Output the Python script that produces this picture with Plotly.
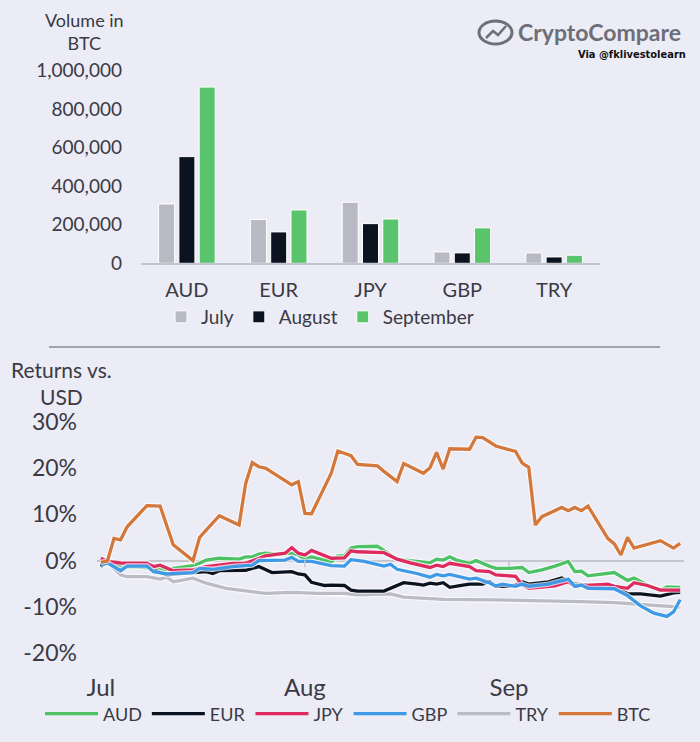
import plotly.graph_objects as go
import pandas as pd

# ---------------- data ----------------
currencies = ["AUD", "EUR", "JPY", "GBP", "TRY"]
vol_july = [308000, 227000, 317000, 59000, 54000]
vol_august = [554000, 163000, 206000, 54000, 33000]
vol_september = [915000, 277000, 230000, 184000, 42000]
month_names = ["July", "August", "September"]
vol_ticks = [0, 200000, 400000, 600000, 800000, 1000000]

start_date = "2020-07-01"
month_ticks = ["2020-07-01", "2020-08-01", "2020-09-01"]
month_labels = ["Jul", "Aug", "Sep"]
ret_ticks = [-20, -10, 0, 10, 20, 30]
ret_tick_labels = ["-20%", "-10%", "0%", "10%", "20%", "30%"]

aud_days = [0, 1, 3, 5, 8, 10, 11, 14, 15, 16, 18, 21, 22, 23, 24, 25, 27, 29, 30, 31, 32, 35, 36, 37, 38, 39, 42, 43, 44, 45, 48, 50, 51, 52, 53, 54, 56, 57, 59, 60, 62, 64, 65, 67, 69, 71, 72, 73, 74, 78, 80, 81, 83, 85, 86, 88]
aud_ret = [-1.2, -0.4, -1.5, -1.3, -1.7, -2.0, -1.7, -1.1, -0.6, 0.1, 0.5, 0.3, 0.8, 0.8, 1.4, 1.6, 1.4, 1.6, 1.2, 0.3, 0.8, -0.3, 1.0, 1.0, 2.7, 3.0, 3.1, 2.2, 1.2, 0.3, -0.2, -0.5, 0.3, 0.1, 0.8, 0.1, -0.6, 0.0, -1.2, -1.7, -1.7, -1.5, -2.6, -2.0, -1.2, -0.2, -2.4, -2.3, -3.3, -2.6, -4.3, -3.8, -5.3, -6.4, -5.7, -5.8]

eur_days = [0, 1, 2, 7, 8, 10, 14, 16, 17, 18, 22, 24, 26, 29, 30, 31, 32, 34, 35, 37, 38, 39, 43, 44, 46, 48, 49, 50, 51, 52, 53, 55, 56, 58, 59, 60, 62, 63, 64, 65, 68, 70, 72, 74, 78, 80, 82, 85, 87, 88]
eur_ret = [-1.3, -0.2, -0.7, -0.5, -2.0, -3.1, -2.6, -2.4, -2.8, -2.2, -2.1, -1.3, -2.6, -2.4, -2.9, -3.1, -4.7, -5.4, -5.3, -5.4, -6.4, -6.6, -6.6, -6.0, -4.8, -5.1, -5.3, -4.9, -5.1, -4.8, -5.8, -5.3, -5.1, -5.1, -4.6, -5.6, -5.6, -5.3, -4.6, -5.1, -4.6, -3.8, -5.1, -5.3, -5.6, -7.2, -7.2, -7.7, -7.0, -6.9]

jpy_days = [0, 1, 3, 7, 8, 9, 11, 14, 16, 20, 22, 25, 28, 29, 30, 31, 32, 35, 37, 38, 39, 43, 45, 47, 50, 51, 52, 53, 56, 57, 59, 60, 63, 64, 65, 69, 71, 72, 73, 74, 77, 78, 80, 81, 83, 85, 88]
jpy_ret = [0.5, -0.2, -0.5, -0.6, -1.3, -1.0, -2.2, -2.0, -1.3, -0.6, -0.6, 1.0, 1.6, 2.8, 1.6, 1.2, 2.2, 0.5, 0.6, 2.1, 1.9, 1.7, 0.3, -0.5, -1.5, -1.0, -1.3, -0.6, -1.3, -2.2, -2.4, -3.1, -3.4, -5.3, -6.0, -5.5, -4.6, -5.6, -5.3, -5.4, -5.1, -5.6, -6.0, -4.8, -5.4, -6.4, -6.4]

gbp_days = [0, 1, 3, 4, 7, 8, 10, 14, 15, 17, 20, 22, 23, 24, 28, 29, 30, 32, 35, 37, 38, 40, 43, 44, 45, 48, 50, 51, 52, 53, 56, 57, 59, 60, 61, 63, 64, 65, 68, 71, 72, 73, 74, 78, 80, 82, 84, 86, 87, 88]
gbp_ret = [-1.0, -0.5, -2.2, -1.2, -1.2, -2.4, -2.9, -2.6, -1.7, -1.9, -1.3, -1.2, -1.0, 0.0, 0.1, 0.7, -0.2, -0.2, -1.1, -1.2, 0.2, -0.2, -1.2, -0.8, -1.9, -2.8, -3.6, -3.0, -3.3, -3.0, -4.0, -3.8, -4.8, -5.5, -5.1, -5.6, -5.1, -5.6, -5.1, -4.0, -5.6, -5.3, -6.0, -6.1, -7.6, -9.8, -11.4, -12.1, -11.1, -8.5]

try_days = [0, 1, 3, 4, 7, 9, 10, 11, 14, 16, 19, 21, 25, 29, 33, 37, 39, 44, 46, 52, 60, 73, 78, 83, 88]
try_ret = [-1.0, -0.5, -3.1, -3.5, -3.5, -4.0, -3.6, -4.6, -3.8, -4.9, -6.0, -6.4, -7.1, -6.9, -7.1, -7.1, -7.4, -7.2, -7.9, -8.4, -8.5, -8.9, -9.1, -9.6, -10.1]

btc_days = [0, 1, 2, 3, 4, 7, 9, 11, 14, 15, 16, 18, 21, 22, 23, 24, 25, 28, 29, 30, 31, 32, 35, 36, 38, 39, 42, 43, 44, 45, 46, 49, 50, 51, 52, 53, 56, 57, 58, 59, 60, 63, 64, 65, 66, 67, 70, 71, 72, 73, 74, 77, 78, 79, 80, 81, 85, 87, 88]
btc_ret = [-0.4, -0.1, 4.8, 4.5, 7.3, 11.9, 11.8, 3.4, 0.0, 5.0, 6.6, 9.7, 7.7, 16.7, 21.2, 20.3, 20.0, 17.4, 16.4, 17.1, 10.2, 10.1, 18.9, 23.7, 22.7, 20.8, 20.5, 19.3, 18.3, 17.1, 21.0, 18.9, 20.1, 23.4, 19.8, 24.2, 24.1, 26.7, 26.6, 25.8, 24.8, 23.6, 21.1, 20.2, 7.7, 9.5, 11.5, 10.8, 11.5, 10.8, 11.8, 4.8, 3.6, 1.2, 5.0, 2.7, 4.3, 2.7, 3.7]

# ---------------- styling ----------------
W, H = 700, 742
BG = "#ECECF6"
FONT = "Lato, 'Open Sans', sans-serif"
TXT = "#3a3a44"
month_colors = ["#B9B9C3", "#0B1320", "#5AC46C"]


def fx(px):
    return px / W


def fy(py):
    return 1 - py / H


def to_dates(days):
    return pd.to_datetime(start_date) + pd.to_timedelta(days, unit="D")


fig = go.Figure()

# ---- top: bar chart ----
for name, vals, col in zip(month_names, [vol_july, vol_august, vol_september], month_colors):
    fig.add_trace(go.Bar(
        x=currencies, y=vals, name=name, marker=dict(color=col, line=dict(color="white", width=1)),
        xaxis="x", yaxis="y", legend="legend",
    ))

# ---- bottom: returns lines ----
series = [
    ("TRY", try_days, try_ret, "#BBBBC4", 5),
    ("AUD", aud_days, aud_ret, "#4DC265", 1),
    ("EUR", eur_days, eur_ret, "#0B1320", 2),
    ("JPY", jpy_days, jpy_ret, "#DE2A5E", 3),
    ("GBP", gbp_days, gbp_ret, "#3E9AE6", 4),
    ("BTC", btc_days, btc_ret, "#D4773A", 6),
]
for name, days, vals, col, rank in series:
    d = to_dates(days)
    fig.add_trace(go.Scatter(
        x=d, y=vals, mode="lines", line=dict(color="rgba(255,255,255,0.7)", width=5.5),
        showlegend=False, hoverinfo="skip", xaxis="x2", yaxis="y2",
    ))
    fig.add_trace(go.Scatter(
        x=d, y=vals, mode="lines", name=name, line=dict(color=col, width=3.3),
        xaxis="x2", yaxis="y2", legend="legend2", legendrank=rank,
    ))

x0 = pd.to_datetime(start_date) - pd.Timedelta(hours=14)
x1 = pd.to_datetime(start_date) + pd.Timedelta(days=88, hours=14)

fig.update_layout(
    width=W, height=H,
    margin=dict(l=0, r=0, t=0, b=0, autoexpand=False),
    paper_bgcolor=BG, plot_bgcolor=BG,
    font=dict(family=FONT, color=TXT),
    barmode="group", bargap=0.337, bargroupgap=0.21,
    xaxis=dict(
        domain=[fx(141), fx(600)], anchor="y", showline=True, linecolor="#C4C4CE", linewidth=2,
        ticks="", showgrid=False, tickfont=dict(size=20, color=TXT), ticklabelstandoff=8,
        automargin=False,
    ),
    yaxis=dict(
        domain=[fy(263.3), fy(61.1)], anchor="x", range=[0, 1050000],
        tickvals=vol_ticks, tickformat=",d",
        showgrid=False, zeroline=False, showline=False, ticks="",
        tickfont=dict(size=19, color=TXT), ticklabelstandoff=18, automargin=False,
    ),
    xaxis2=dict(
        domain=[fx(97), fx(684)], anchor="y2", type="date", range=[x0, x1],
        tickvals=pd.to_datetime(month_ticks), ticktext=month_labels,
        showgrid=False, showline=False, ticks="", zeroline=False,
        tickfont=dict(size=24, color=TXT), ticklabelstandoff=6, automargin=False,
    ),
    yaxis2=dict(
        domain=[fy(664.5), fy(410.4)], anchor="x2", range=[-22.5, 32.5],
        tickvals=ret_ticks, ticktext=ret_tick_labels,
        showgrid=False, zeroline=True, zerolinecolor="#C6C6CF", zerolinewidth=2,
        ticks="", tickfont=dict(size=23, color=TXT), ticklabelstandoff=19, automargin=False,
    ),
    legend=dict(
        orientation="h", x=fx(320), xanchor="center", y=fy(317), yanchor="middle",
        font=dict(size=19, color=TXT), bgcolor="rgba(0,0,0,0)", itemwidth=30,
        traceorder="normal",
    ),
    legend2=dict(
        orientation="h", x=fx(348), xanchor="center", y=fy(714), yanchor="middle",
        font=dict(size=18, color=TXT), bgcolor="rgba(0,0,0,0)", itemwidth=53,
    ),
    showlegend=True,
)

# titles / labels
fig.add_annotation(text="Volume in<br>BTC", x=fx(84), y=fy(32), xref="paper", yref="paper",
                   xanchor="center", yanchor="middle", borderpad=0,
                   showarrow=False, align="center", font=dict(size=18, color=TXT))
fig.add_annotation(text="Returns vs.<br>USD", x=fx(62), y=fy(383), xref="paper", yref="paper",
                   xanchor="center", yanchor="middle", borderpad=0,
                   showarrow=False, align="center", font=dict(size=21, color=TXT))

# logo
fig.add_annotation(text="<b>CryptoCompare</b>", x=fx(516), y=fy(32), xref="paper", yref="paper",
                   xanchor="left", yanchor="middle", showarrow=False,
                   font=dict(size=23, color="#6E6E78", family=FONT))
fig.add_annotation(text="<b>Via @fklivestolearn</b>", x=fx(688), y=fy(54), xref="paper", yref="paper",
                   xanchor="right", yanchor="middle", showarrow=False,
                   font=dict(size=11, color="#111111", family="'Liberation Sans Narrow', 'DejaVu Sans Condensed', sans-serif"))
fig.add_shape(type="circle", xref="paper", yref="paper",
              x0=fx(479), x1=fx(512), y0=fy(44), y1=fy(21),
              line=dict(color="#6E6E78", width=3))
fig.add_shape(type="path", xref="paper", yref="paper",
              path=f"M {fx(486)} {fy(38)} L {fx(493)} {fy(31)} L {fx(498)} {fy(35)} L {fx(506)} {fy(26)}",
              line=dict(color="#6E6E78", width=2.5))

# separator between the two panels
fig.add_shape(type="line", xref="paper", yref="paper", x0=fx(49), x1=fx(660), y0=fy(347), y1=fy(347),
              line=dict(color="#A2A2AE", width=2))

# small month ticks on zero line
for t in month_ticks[1:]:
    fig.add_shape(type="line", xref="x2", yref="y2", x0=t, x1=t, y0=0, y1=-1.4,
                  line=dict(color="#C6C6CF", width=1.5))

fig.write_html("out.html")
